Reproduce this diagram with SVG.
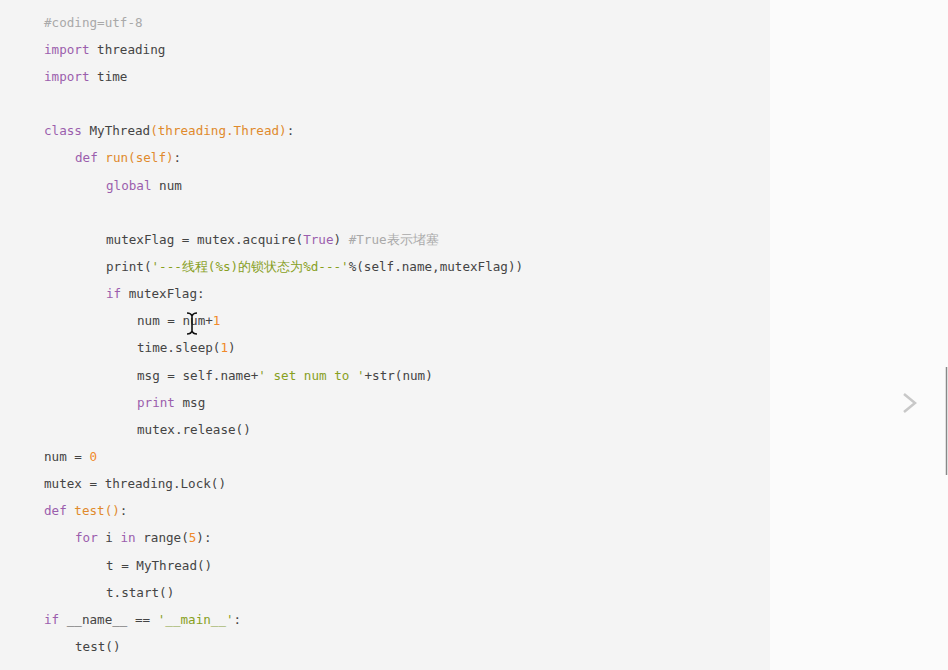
<svg xmlns="http://www.w3.org/2000/svg" width="948" height="670" viewBox="0 0 948 670">
<style>
text{font-family:"DejaVu Sans Mono","Liberation Mono",monospace;font-size:12.6px;fill:#444;white-space:pre}
.k{fill:#9b5ead}.s{fill:#88a01e}.n{fill:#f0892a}.c{fill:#a9a9a9}.o{fill:#e08a2c}
</style>
<rect width="948" height="670" fill="#fbfbfb"/>
<rect width="770" height="670" fill="#f4f4f4"/>
<line x1="946.5" y1="367" x2="946.5" y2="475" stroke="#888" stroke-width="1.5"/>
<path d="M904 394 L915 403 L904 412" fill="none" stroke="#c8c8c8" stroke-width="2.5"/>
<g id="code">
<text x="44" y="27"><tspan class="c">#coding=utf-8</tspan></text>
<text x="44" y="54"><tspan class="k">import</tspan> threading</text>
<text x="44" y="81"><tspan class="k">import</tspan> time</text>
<text x="44" y="135"><tspan class="k">class</tspan> MyThread<tspan class="o">(threading.Thread)</tspan>:</text>
<text x="75" y="162"><tspan class="k">def</tspan> <tspan class="o">run(self)</tspan>:</text>
<text x="106" y="190"><tspan class="k">global</tspan> num</text>
<text x="106" y="244">mutexFlag = mutex.acquire(<tspan class="k">True</tspan>) <tspan class="c">#True表示堵塞</tspan></text>
<text x="106" y="271">print(<tspan class="s">'---线程(%s)的锁状态为%d---'</tspan>%(self.name,mutexFlag))</text>
<text x="106" y="298"><tspan class="k">if</tspan> mutexFlag:</text>
<text x="137" y="325">num = num+<tspan class="n">1</tspan></text>
<text x="137" y="352">time.sleep(<tspan class="n">1</tspan>)</text>
<text x="137" y="380">msg = self.name+<tspan class="s">' set num to '</tspan>+str(num)</text>
<text x="137" y="407"><tspan class="k">print</tspan> msg</text>
<text x="137" y="434">mutex.release()</text>
<text x="44" y="461">num = <tspan class="n">0</tspan></text>
<text x="44" y="488">mutex = threading.Lock()</text>
<text x="44" y="515"><tspan class="k">def</tspan> <tspan class="o">test()</tspan>:</text>
<text x="75" y="542"><tspan class="k">for</tspan> i <tspan class="k">in</tspan> range(<tspan class="n">5</tspan>):</text>
<text x="106" y="570">t = MyThread()</text>
<text x="106" y="597">t.start()</text>
<text x="44" y="624"><tspan class="k">if</tspan> __name__ == <tspan class="s">'__main__'</tspan>:</text>
<text x="75" y="651">test()</text>
</g>
<path d="M187 313 Q191 313 192 316 Q193 313 197 313 M192 316 L192 331 M187 334 Q191 334 192 331 Q193 334 197 334" fill="none" stroke="#111" stroke-width="1.6"/>
</svg>
